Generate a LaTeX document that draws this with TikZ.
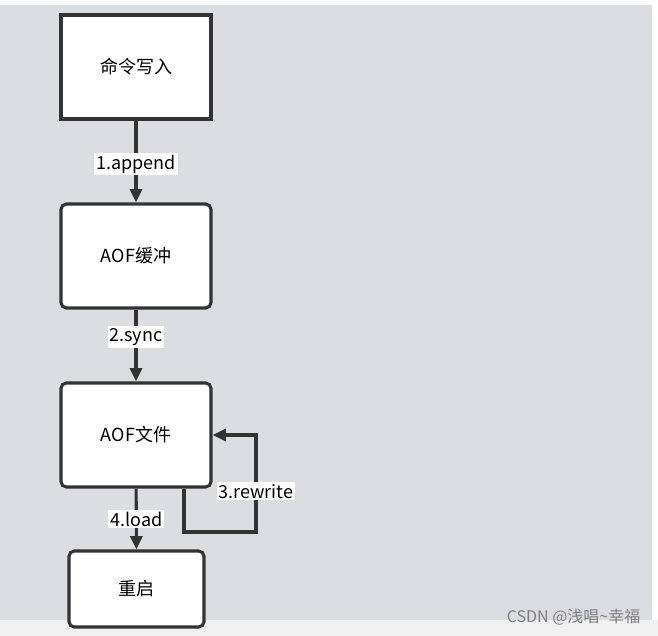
\documentclass[tikz,border=0pt]{standalone}
\usepackage{fontspec}
\setmainfont{Noto Sans CJK SC}
\usetikzlibrary{arrows.meta}
\definecolor{bg}{HTML}{DCDDE1}
\definecolor{ln}{HTML}{333333}
\tikzset{
  box/.style={draw=ln,line width=2.3pt,fill=white,inner sep=0pt,font=\fontsize{13.5}{15}\selectfont},
  conn/.style={draw=ln,line width=2.3pt,-{Triangle[length=10pt,width=9pt]}},
  lab/.style={fill=white,inner sep=1.5pt,font=\fontsize{13.5}{15}\selectfont,text=black}
}
\begin{document}
\begin{tikzpicture}[x=0.75pt,y=-0.75pt]
\useasboundingbox (0,0) rectangle (658,636);
\fill[bg] (0,0) rectangle (658,636);
\fill[white!97!bg] (0,0) rectangle (658,5);
\fill[white] (652,0) rectangle (658,636);
\fill[white!94!black] (0,620) rectangle (658,636);
\node[box,minimum width=150*0.75pt,minimum height=104*0.75pt] (a) at (136,67) {命令写入};
\node[box,rounded corners=4pt,minimum width=150*0.75pt,minimum height=104*0.75pt] (b) at (136,256) {AOF缓冲};
\node[box,rounded corners=4pt,minimum width=150*0.75pt,minimum height=104*0.75pt] (c) at (136,435) {AOF文件};
\node[box,rounded corners=4pt,minimum width=135*0.75pt,minimum height=76*0.75pt] (d) at (136.5,589) {重启};
\draw[conn] (a) -- node[lab,pos=0.53]{1.append} (b);
\draw[conn] (b) -- node[lab,pos=0.38]{2.sync} (c);
\draw[conn] (c) -- node[lab,pos=0.5]{4.load} (d);
\coordinate (r1) at (184,532);
\coordinate (r2) at (256,532);
\coordinate (r3) at (256,435);
\draw[conn] (c.south -| r1) -- (r1) -- (r2) -- node[lab,pos=0.42]{3.rewrite} (r3) -- (c.east);
\node[text=gray,font=\fontsize{12}{14}\selectfont,anchor=east] (w) at (645,617) {CSDN @浅唱\textasciitilde 幸福};
\end{tikzpicture}
\end{document}
